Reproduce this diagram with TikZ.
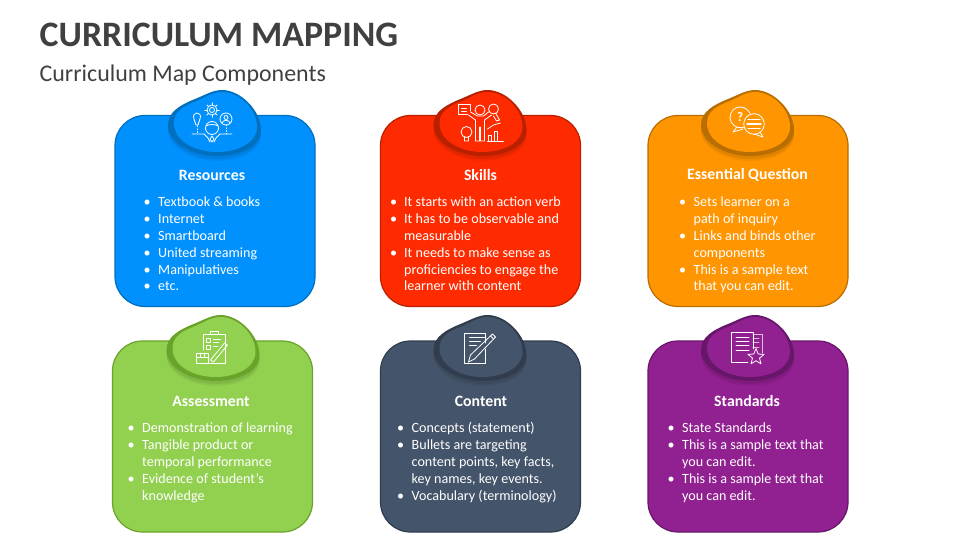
\documentclass[tikz,border=0pt]{standalone}
\usepackage{fontspec}
\setmainfont{Carlito}

\definecolor{titlegray}{HTML}{404040}
\definecolor{resfill}{HTML}{0091FF}
\definecolor{resdark}{HTML}{0070BE}
\definecolor{skillfill}{HTML}{FF2B00}
\definecolor{skilldark}{HTML}{B82000}
\definecolor{quesfill}{HTML}{FF9500}
\definecolor{quesdark}{HTML}{B86E00}
\definecolor{assefill}{HTML}{92D050}
\definecolor{assedark}{HTML}{6AA329}
\definecolor{contfill}{HTML}{44546A}
\definecolor{contdark}{HTML}{313D4F}
\definecolor{stanfill}{HTML}{912090}
\definecolor{standark}{HTML}{66176A}

\newcommand{\blobouter}{(-47,10) .. controls (-47,-3) and (-35,-10) .. (-20,-16) .. controls (-10,-20) and (-2,-25) .. (7,-25)
    .. controls (26,-25) and (46,-4) .. (46,15) .. controls (46,32) and (24,41) .. (2,41) .. controls (-22,41) and (-47,28) .. (-47,10) -- cycle}
\newcommand{\blobinner}{(-41,8) .. controls (-41,-3) and (-32,-9) .. (-18,-14) .. controls (-9,-18) and (-2,-23) .. (7,-23)
    .. controls (24,-23) and (42,-6) .. (42,12) .. controls (42,28) and (22,37) .. (2,37) .. controls (-20,37) and (-41,26) .. (-41,8) -- cycle}

\tikzset{
    card/.style={rounded corners=30pt, minimum width=200pt, minimum height=191pt, line width=1.2pt},
    cardtitle/.style={text=white, font=\fontsize{15.8}{18}\bfseries\selectfont},
    cardtext/.style={text=white, anchor=north west, inner sep=0pt, font=\fontsize{14.1}{16.85}\selectfont},
    icon/.style={draw=white, line width=0.8pt, line cap=round, line join=round},
    pics/badge/.style 2 args={code={
        \fill [black, opacity=0.05, yshift=-5pt] \blobouter;
        \fill [black, opacity=0.07, yshift=-3pt] \blobouter;
        \fill [#1] \blobouter;
        \fill [#2] \blobinner;
    }},
    resicon/.pic={
        \draw [icon] (-3,-5) circle (2.5) (-3,-5) circle (5);
        \foreach \a in {0,45,...,315} \draw [icon, shift={(-3,-5)}] (\a:5) -- (\a:7.3);
        \draw [icon] (-21,4) .. controls (-24,-4) and (-12,-4) .. (-15,4) -- (-17,10) -- (-19,10) -- cycle;
        \draw [icon] (11,4) circle (6) (11,2.5) circle (2) (7,8) .. controls (8,4.5) and (14,4.5) .. (15,8);
        \draw [icon, dotted] (-18,11) -- (-18,19) (11,10) -- (11,19);
        \draw [icon] (-3,13) circle (6.5) (-9,11) .. controls (-6,9) and (0,9) .. (3,11);
        \draw [icon] (-23,19) -- (-11,19) -- (-7,23) -- (-5,27) (17,19) -- (5,19) -- (1,23) -- (-1,27);
        \draw [icon] (-3,21) -- (-5,24) -- (-3,27) -- (-1,24) -- cycle;
    },
    skillicon/.pic={
        \draw [icon] (-13,-1) -- (-22,-1) -- (-22,-11) -- (-10,-11) -- (-10,-4) (-19,-7) -- (-14,-7) (-19,-4) -- (-14,-4);
        \draw [icon] (-0.5,-5) circle (5);
        \draw [icon] (-12,0) -- (-5,5) -- (-5,26) -- (-1,26) -- (-1,12) (-10,-3) -- (-3,1) -- (3,1) -- (8,-3) (11,0) -- (4,5) -- (4,26) -- (0,26) -- (0,12);
        \draw [icon] (13,-6) circle (5) (15,-2) -- (19,5) -- (16,6) -- (13,1);
        \draw [icon] (-14,17) circle (5.5) (-16,22) -- (-16,26) -- (-12,26) -- (-12,22);
        \draw [icon] (7,26) -- (23,26) (8,26) -- (8,20) -- (11,20) -- (11,26) (14,26) -- (14,16) -- (17,16) -- (17,26);
        \draw [icon] (7,14) -- (13,10) -- (20,8);
    },
    quesicon/.pic={
        \draw [icon] (-15,17) -- (-11,12) (-15,17) -- (-5,14) (-3,12) .. controls (-12,15) and (-18,8) .. (-18,3)
            .. controls (-18,-4) and (-13,-8) .. (-8,-8) .. controls (-3,-8) and (0,-5) .. (2,-2);
        \node (ques_mark) [text=white, inner sep=0pt, font=\fontsize{13}{13}\bfseries\selectfont] at (-8,2) {?};
        \draw [icon] (6,9) circle (10.3);
        \draw [icon] (12,17) -- (15,22) -- (6,19);
        \draw [icon, line width=1.2pt] (0,4.5) -- (12,4.5) (-1,9) -- (13,9) (0,13.5) -- (12,13.5);
    },
    asseicon/.pic={
        \draw [icon] (-9,10) -- (-9,-6) -- (13,-6) -- (13,23) -- (-3,23);
        \draw [icon] (-2,-6) -- (-2,-9) -- (6,-9) -- (6,-6);
        \draw [icon] (-6,-2) rectangle (-2,2) (-6,5) rectangle (-2,9);
        \draw [icon] (1,-1) -- (8,-1) (1,2) -- (6,2) (1,6) -- (5,6);
        \draw [icon] (-16,13) rectangle (-4,23) (-16,17) -- (-4,17) (-12,13) -- (-12,17) (-8,13) -- (-8,17);
        \draw [icon] (-2,20) -- (12,3) -- (15,5) -- (1,22) -- cycle;
    },
    conticon/.pic={
        \draw [icon] (5,3) -- (5,-7) -- (-16,-7) -- (-16,23) -- (5,23) -- (5,9);
        \draw [icon] (-11,-3) -- (4,-3) (-11,1) -- (0,1) (-11,5) -- (-4,5);
        \draw [icon] (-12,22) -- (-10,15) -- (12,-6) -- (15,-3) -- (-6,19) -- cycle;
        \draw [icon] (10,-4) -- (13,-1);
    },
    stanicon/.pic={
        \draw [icon, white!70!stanfill] (5,-6) -- (14,-6) -- (14,13);
        \draw [icon, white!70!stanfill] (5,-2) -- (11,-2) (5,2) -- (11,2) (5,7) -- (11,7);
        \draw [icon] (5,9) -- (5,-8) -- (-17,-8) -- (-17,22) -- (0,22);
        \draw [icon] (-12,-3) -- (1,-3) (-12,1) -- (1,1) (-12,5.5) -- (1,5.5) (-12,10) -- (1,10);
        \draw [icon, fill=stanfill] (8,8.5) -- (10.2,14) -- (16.1,14.4) -- (11.5,18.1) -- (13,23.9) -- (8,20.7)
            -- (3,23.9) -- (4.5,18.1) -- (-0.1,14.4) -- (5.8,14) -- cycle;
    }
}

\begin{document}
\begin{tikzpicture}[x=1pt, y=-1pt]
    \useasboundingbox (0,0) rectangle (960,540);

    \node (main_title) [anchor=base west, inner sep=0pt, text=titlegray, font=\fontsize{35.8}{40}\bfseries\selectfont] at (39.5,46.5) {CURRICULUM MAPPING};
    \node (sub_title) [anchor=base west, inner sep=0pt, text=titlegray, font=\fontsize{23.9}{26}\selectfont] at (39.5,81.5) {Curriculum Map Components};

    % top row
    \node (resources) [card, draw=resdark, fill=resfill] at (215,211) {};
    \node (skills) [card, draw=skilldark, fill=skillfill] at (480.5,211) {};
    \node (question) [card, draw=quesdark, fill=quesfill] at (748,211) {};
    \pic at (215,115) {badge={resdark}{resfill}};
    \pic at (480.5,115) {badge={skilldark}{skillfill}};
    \pic at (748,115) {badge={quesdark}{quesfill}};
    \pic at (215,115) {resicon};
    \pic at (480.5,115) {skillicon};
    \pic at (748,115) {quesicon};

    % bottom row
    \node (assessment) [card, draw=assedark, fill=assefill] at (212.5,436.5) {};
    \node (content) [card, draw=contdark, fill=contfill] at (480.5,436.5) {};
    \node (standards) [card, draw=standark, fill=stanfill] at (748,436.5) {};
    \pic at (213.5,340) {badge={assedark}{assefill}};
    \pic at (480.5,340) {badge={contdark}{contfill}};
    \pic at (748,340) {badge={standark}{stanfill}};
    \pic at (212.5,340) {asseicon};
    \pic at (480.5,340) {conticon};
    \pic at (748,340) {stanicon};

    \node (resources_title) [cardtitle] at (212,175) {Resources};
    \node (skills_title) [cardtitle] at (480.5,175) {Skills};
    \node (question_title) [cardtitle] at (747.5,175) {Essential Question};
    \node (assessment_title) [cardtitle] at (211,401) {Assessment};
    \node (content_title) [cardtitle] at (481,401) {Content};
    \node (standards_title) [cardtitle] at (747,401) {Standards};

    \node (resources_text) [cardtext] at (143.5,194.7) {\begin{tabular}{@{}p{14.5pt}@{}l@{}}
        • & Textbook \& books\\
        • & Internet\\
        • & Smartboard\\
        • & United streaming\\
        • & Manipulatives\\
        • & etc.
    \end{tabular}};
    \node (skills_text) [cardtext] at (390,194.7) {\begin{tabular}{@{}p{14pt}@{}l@{}}
        • & It starts with an action verb\\
        • & It has to be observable and\\
          & measurable\\
        • & It needs to make sense as\\
          & proficiencies to engage the\\
          & learner with content
    \end{tabular}};
    \node (question_text) [cardtext] at (679,194.7) {\begin{tabular}{@{}p{14.5pt}@{}l@{}}
        • & Sets learner on a\\
          & path of inquiry\\
        • & Links and binds other\\
          & components\\
        • & This is a sample text\\
          & that you can edit.
    \end{tabular}};
    \node (assessment_text) [cardtext] at (127.5,420.7) {\begin{tabular}{@{}p{14.5pt}@{}l@{}}
        • & Demonstration of learning\\
        • & Tangible product or\\
          & temporal performance\\
        • & Evidence of student’s\\
          & knowledge
    \end{tabular}};
    \node (content_text) [cardtext] at (397,420.7) {\begin{tabular}{@{}p{14.5pt}@{}l@{}}
        • & Concepts (statement)\\
        • & Bullets are targeting\\
          & content points, key facts,\\
          & key names, key events.\\
        • & Vocabulary (terminology)
    \end{tabular}};
    \node (standards_text) [cardtext] at (667.5,420.7) {\begin{tabular}{@{}p{14.5pt}@{}l@{}}
        • & State Standards\\
        • & This is a sample text that\\
          & you can edit.\\
        • & This is a sample text that\\
          & you can edit.
    \end{tabular}};
\end{tikzpicture}
\end{document}
